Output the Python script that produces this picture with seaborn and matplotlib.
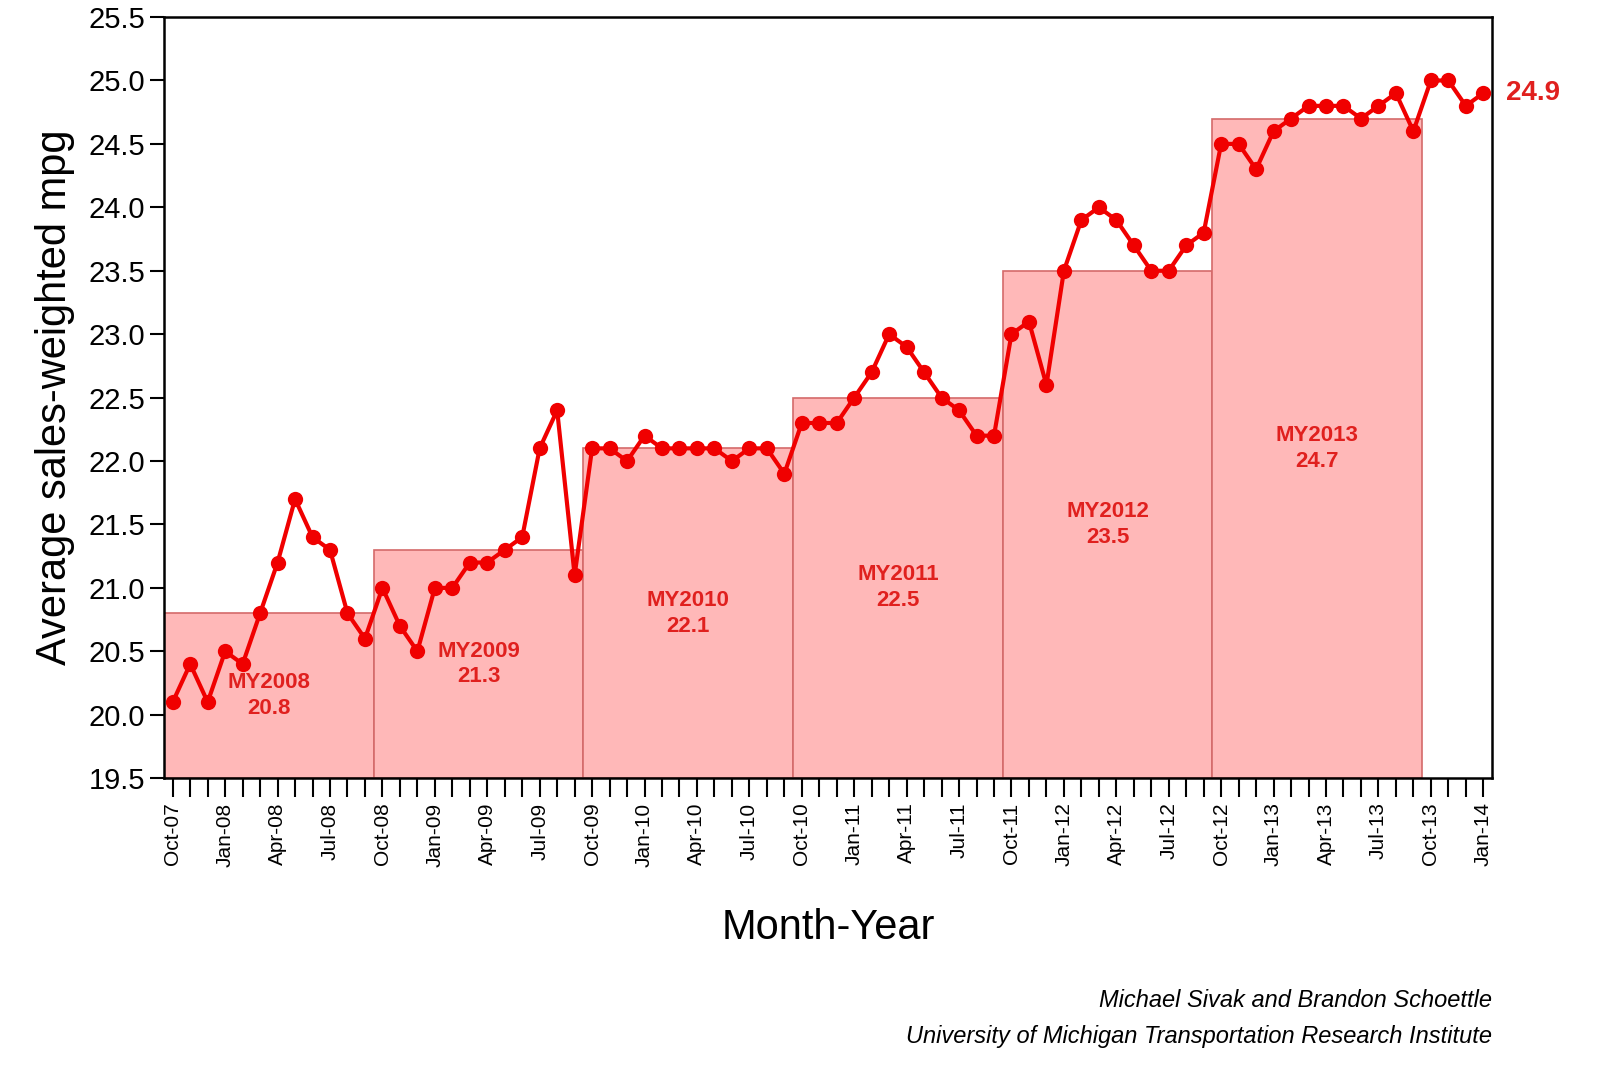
import numpy as np
import pandas as pd
import matplotlib
matplotlib.use("Agg")
import matplotlib.pyplot as plt
import seaborn as sns

plt.rcParams["font.family"] = "Liberation Sans"

mpg = [20.1, 20.4, 20.1, 20.5, 20.4, 20.8, 21.2, 21.7, 21.4, 21.3, 20.8, 20.6,
       21.0, 20.7, 20.5, 21.0, 21.0, 21.2, 21.2, 21.3, 21.4, 22.1, 22.4, 21.1,
       22.1, 22.1, 22.0, 22.2, 22.1, 22.1, 22.1, 22.1, 22.0, 22.1, 22.1, 21.9,
       22.3, 22.3, 22.3, 22.5, 22.7, 23.0, 22.9, 22.7, 22.5, 22.4, 22.2, 22.2,
       23.0, 23.1, 22.6, 23.5, 23.9, 24.0, 23.9, 23.7, 23.5, 23.5, 23.7, 23.8,
       24.5, 24.5, 24.3, 24.6, 24.7, 24.8, 24.8, 24.8, 24.7, 24.8, 24.9, 24.6,
       25.0, 25.0, 24.8, 24.9]
model_years = ["MY2008", "MY2009", "MY2010", "MY2011", "MY2012", "MY2013"]
model_year_mpg = [20.8, 21.3, 22.1, 22.5, 23.5, 24.7]
month_names = ["Jan", "Feb", "Mar", "Apr", "May", "Jun", "Jul", "Aug", "Sep", "Oct", "Nov", "Dec"]

labels = []
for i in range(len(mpg)):
    m = (9 + i) % 12
    y = 7 + (9 + i) // 12
    labels.append(f"{month_names[m]}-{y:02d}")

df = pd.DataFrame({"idx": np.arange(len(mpg)), "mpg": mpg})

fig = plt.figure(figsize=(16, 10.66), dpi=100)
ax = fig.add_axes([0.1025, 0.270, 0.83, 0.714])

YMIN = 19.5
for k, (name, v) in enumerate(zip(model_years, model_year_mpg)):
    x0 = k * 12 - 0.5
    ax.bar(x0, v - YMIN, width=12, bottom=YMIN, align="edge",
           color="#FFB8B8", edgecolor="#D46A6A", linewidth=1.2, zorder=1)
    ax.text(x0 + 6, (v + YMIN) / 2, f"{name}\n{v:.1f}", ha="center", va="center",
            color="#E0201E", fontsize=16, fontweight="bold", linespacing=1.3, zorder=3)

sns.lineplot(data=df, x="idx", y="mpg", ax=ax, color="#F00000", linewidth=3,
             marker="o", markersize=11, markeredgewidth=0, zorder=4)

ax.text(len(mpg) - 1 + 1.3, mpg[-1], f"{mpg[-1]:.1f}", color="#E0201E",
        fontsize=20, fontweight="bold", va="center", ha="left", clip_on=False)

ax.set_xlim(-0.5, len(mpg) - 0.5)
ax.set_ylim(YMIN, 25.5)
ax.set_yticks(np.arange(19.5, 25.51, 0.5))
ax.set_yticklabels([f"{v:.1f}" for v in np.arange(19.5, 25.51, 0.5)], fontsize=21)
ax.set_xticks(np.arange(0, len(mpg), 3))
ax.set_xticklabels(labels[::3], rotation=90, fontsize=15)
ax.set_xticks(np.arange(len(mpg)), minor=True)
ax.tick_params(axis="x", which="major", length=14, width=1.5)
ax.tick_params(axis="x", which="minor", length=14, width=1.5)
ax.tick_params(axis="y", length=10, width=1.5)
for s in ax.spines.values():
    s.set_linewidth(1.8)
ax.set_xlabel("Month-Year", fontsize=30, labelpad=30)
ax.set_ylabel("Average sales-weighted mpg", fontsize=30, labelpad=10)

fig.text(0.9325, 0.055, "Michael Sivak and Brandon Schoettle", ha="right",
         fontsize=17, style="italic")
fig.text(0.9325, 0.022, "University of Michigan Transportation Research Institute",
         ha="right", fontsize=17, style="italic")

fig.savefig("out.png", dpi=100)
